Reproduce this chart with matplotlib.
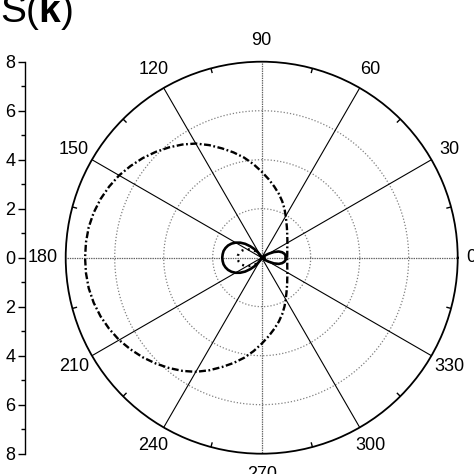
import numpy as np
import matplotlib
matplotlib.use("Agg")
import matplotlib.pyplot as plt

plt.rcParams['font.family'] = ['Liberation Sans', 'DejaVu Sans']
plt.rcParams['mathtext.fontset'] = 'custom'
plt.rcParams['mathtext.rm'] = 'Liberation Sans'
plt.rcParams['mathtext.bf'] = 'Liberation Sans:bold'
plt.rcParams['lines.scale_dashes'] = False

# ---- data ----
angles_deg = list(range(0, 365, 5))

# dash-dot curve (0..180 then 185..360)
r_dashdot = [1.04, 1.045, 1.06, 1.08, 1.11, 1.155, 1.21, 1.28, 1.36, 1.47, 1.60, 1.76, 1.96, 2.20, 2.45, 2.70, 2.95, 3.22,
             3.51, 3.83, 4.15, 4.45, 4.75, 5.07, 5.38, 5.64, 5.88, 6.11, 6.33, 6.53, 6.72, 6.87, 7.00, 7.10, 7.17, 7.20,
             7.21,
             7.20, 7.17, 7.10, 7.00, 6.87, 6.72, 6.53, 6.33, 6.11, 5.88, 5.64, 5.38, 5.07, 4.75, 4.45, 4.15, 3.83,
             3.51, 3.22, 2.95, 2.70, 2.45, 2.20, 1.96, 1.76, 1.60, 1.47, 1.36, 1.28, 1.21, 1.155, 1.11, 1.08, 1.06, 1.045,
             1.04]

# solid figure-eight curve
r_solid = [0.99, 0.98, 0.94, 0.86, 0.74, 0.55, 0.32, 0.15, 0.05, 0.0, 0.0, 0.0, 0.0, 0.0, 0.0, 0.0, 0.0, 0.0,
           0.0, 0.0, 0.0, 0.0, 0.0, 0.03, 0.10, 0.26, 0.45, 0.66, 0.88, 1.07, 1.23, 1.36, 1.46, 1.53, 1.58, 1.60,
           1.61,
           1.60, 1.58, 1.53, 1.46, 1.36, 1.23, 1.07, 0.88, 0.66, 0.45, 0.26, 0.10, 0.03, 0.0, 0.0, 0.0, 0.0,
           0.0, 0.0, 0.0, 0.0, 0.0, 0.0, 0.0, 0.0, 0.0, 0.0, 0.05, 0.15, 0.32, 0.55, 0.74, 0.86, 0.94, 0.98,
           0.99]

# short-dashed small curve
r_dotted = [0.15, 0.14, 0.12, 0.09, 0.05, 0.02, 0.0, 0.0, 0.0, 0.0, 0.0, 0.0, 0.0, 0.0, 0.0, 0.0, 0.0, 0.0,
            0.0, 0.0, 0.0, 0.0, 0.03, 0.07, 0.12, 0.20, 0.30, 0.40, 0.50, 0.59, 0.68, 0.77, 0.85, 0.91, 0.95, 0.975,
            0.98,
            0.975, 0.95, 0.91, 0.85, 0.77, 0.68, 0.59, 0.50, 0.40, 0.30, 0.20, 0.12, 0.07, 0.03, 0.0, 0.0, 0.0,
            0.0, 0.0, 0.0, 0.0, 0.0, 0.0, 0.0, 0.0, 0.0, 0.0, 0.0, 0.0, 0.0, 0.02, 0.05, 0.09, 0.12, 0.14,
            0.15]

spoke_angles = [30, 60, 120, 150, 210, 240, 300, 330]
axis_angles = [0, 90, 180, 270]
label_angles = [0, 30, 60, 90, 120, 150, 180, 210, 240, 270, 300, 330]
ring_radii = [2, 4, 6]
r_max = 8
radial_ticks = [-8, -6, -4, -2, 0, 2, 4, 6, 8]

# ---- figure ----
W = 474
fig = plt.figure(figsize=(W / 100, W / 100), dpi=100)

cx, cy, R = 261.7, 257.7, 196.0
ax = fig.add_axes([(cx - R) / W, (W - cy - R) / W, 2 * R / W, 2 * R / W], projection='polar')
ax.set_ylim(0, r_max)
ax.set_xticks([])
ax.set_yticks([])
ax.grid(False)
ax.spines['polar'].set_linewidth(1.3)
ax.spines['polar'].set_color('black')

th_full = np.linspace(0, 2 * np.pi, 721)
for rr in ring_radii:
    ax.plot(th_full, np.full_like(th_full, rr), color='#808080', lw=0.9,
            dashes=(0.9, 1.4), zorder=1)

for a in spoke_angles:
    t = np.deg2rad(a)
    ax.plot([t, t], [0, r_max], color='black', lw=0.8, zorder=1)
for a in axis_angles:
    t = np.deg2rad(a)
    ax.plot([t, t], [0, r_max], color='#606060', lw=0.9, dashes=(1.0, 0.7), zorder=1)

# small inward ticks at 15 deg offsets on outer circle
for a in range(15, 360, 30):
    t = np.deg2rad(a)
    ax.plot([t, t], [r_max - 0.17, r_max], color='black', lw=1.0, zorder=2)

th = np.deg2rad(angles_deg)
ax.plot(th, r_dashdot, color='black', lw=1.7, dashes=(5.0, 1.8, 1.3, 1.8), zorder=3)
ax.plot(th, r_solid, color='black', lw=1.9, zorder=3)
ax.plot(th, r_dotted, color='black', lw=1.7, dashes=(1.4, 3.2), zorder=3)

for a in label_angles:
    t = np.deg2rad(a)
    if a == 0:
        ax.text(t, 8.33, str(a), ha='left', va='center', fontsize=13, clip_on=False)
    elif a == 180:
        ax.text(t, 8.33, str(a), ha='right', va='center', fontsize=13, clip_on=False)
    else:
        ax.text(t, 8.85, str(a), ha='center', va='center', fontsize=13, clip_on=False)

# left radial scale
ax2 = fig.add_axes([25 / W, (W - cy - R) / W, 0.0005, 2 * R / W])
ax2.set_ylim(-r_max, r_max)
ax2.set_xticks([])
ax2.set_yticks(radial_ticks)
ax2.set_yticklabels([str(abs(v)) for v in radial_ticks])
ax2.set_yticks(np.arange(-r_max, r_max + 1, 1), minor=True)
for s in ['top', 'right', 'bottom']:
    ax2.spines[s].set_visible(False)
ax2.spines['left'].set_linewidth(1.0)
ax2.tick_params(axis='y', which='major', length=5, width=1.0, labelsize=13, pad=2)
ax2.tick_params(axis='y', which='minor', length=3, width=1.0)
ax2.patch.set_visible(False)

fig.text(0.001, 1 - 22 / W, r'$\mathrm{S(}\mathbf{k}\mathrm{)}$', fontsize=28,
         ha='left', va='baseline')

fig.savefig('out.png', dpi=100)
